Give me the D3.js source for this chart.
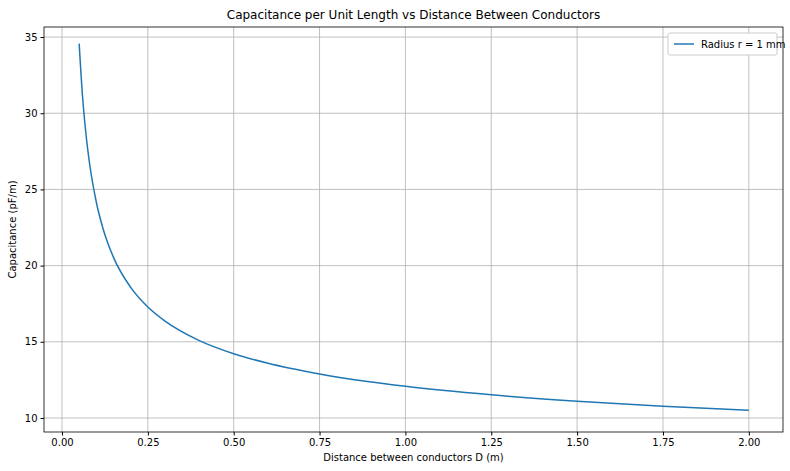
<!DOCTYPE html>
<html><head><meta charset="utf-8">
<script src="https://cdn.jsdelivr.net/npm/d3@7"></script>
<style>body{margin:0;background:#fff}text{font-family:"DejaVu Sans",sans-serif}</style>
</head><body><svg id="c" width="790" height="471"></svg>
<script>
// values
var distances = [0.05,0.06,0.07,0.08,0.1,0.12,0.15,0.2,0.25,0.3,0.4,0.5,0.6,0.75,1.0,1.25,1.5,1.75,2.0];
var capacitance = [34.57,31.05,28.59,26.75,24.16,22.39,20.54,18.57,17.28,16.36,15.08,14.22,13.59,12.89,12.08,11.52,11.10,10.77,10.50];
var xTicks = [0,0.25,0.5,0.75,1.0,1.25,1.5,1.75,2.0];
var yTicks = [10,15,20,25,30,35];

var svg = d3.select('#c'),
    L = 44, R = 783, T = 27, B = 432;
var x = d3.scaleLinear().domain([-0.0524, 2.0995]).range([L, R]);
var y = d3.scaleLinear().domain([9.08, 35.66]).range([B, T]);

var g = svg.append('g');
// grid
g.selectAll('.gx').data(xTicks).enter().append('line')
  .attr('x1', d => x(d)).attr('x2', d => x(d)).attr('y1', T).attr('y2', B)
  .attr('stroke', '#b0b0b0').attr('stroke-width', 0.8);
g.selectAll('.gy').data(yTicks).enter().append('line')
  .attr('y1', d => y(d)).attr('y2', d => y(d)).attr('x1', L).attr('x2', R)
  .attr('stroke', '#b0b0b0').attr('stroke-width', 0.8);

var xa = svg.append('g').attr('transform', 'translate(0,' + B + ')')
  .call(d3.axisBottom(x).tickValues(xTicks).tickFormat(d3.format('.2f')).tickSize(3.5).tickPadding(3));
var ya = svg.append('g').attr('transform', 'translate(' + L + ',0)')
  .call(d3.axisLeft(y).tickValues(yTicks).tickSize(3.5).tickPadding(3));
[xa, ya].forEach(a => { a.select('.domain').remove(); a.selectAll('text').attr('font-size', 10).attr('fill', '#000'); });

svg.append('rect').attr('x', L).attr('y', T).attr('width', R - L).attr('height', B - T)
  .attr('fill', 'none').attr('stroke', '#000').attr('stroke-width', 0.8);

var line = d3.line().x((d, i) => x(distances[i])).y(d => y(d)).curve(d3.curveMonotoneX);
svg.append('path').datum(capacitance).attr('d', line)
  .attr('fill', 'none').attr('stroke', '#1f77b4').attr('stroke-width', 1.5);

svg.append('text').attr('x', (L + R) / 2).attr('y', 19).attr('text-anchor', 'middle')
  .attr('font-size', 12).text('Capacitance per Unit Length vs Distance Between Conductors');
svg.append('text').attr('x', (L + R) / 2).attr('y', 461).attr('text-anchor', 'middle')
  .attr('font-size', 10).text('Distance between conductors D (m)');
svg.append('text').attr('transform', 'translate(16,' + (T + B) / 2 + ') rotate(-90)')
  .attr('text-anchor', 'middle').attr('font-size', 10).text('Capacitance (pF/m)');

// legend
var lg = svg.append('g').attr('transform', 'translate(668,33)');
lg.append('rect').attr('width', 109).attr('height', 22).attr('rx', 2)
  .attr('fill', '#fff').attr('stroke', '#ccc');
lg.append('line').attr('x1', 6).attr('x2', 26).attr('y1', 11).attr('y2', 11)
  .attr('stroke', '#1f77b4').attr('stroke-width', 1.5);
lg.append('text').attr('x', 33).attr('y', 15).attr('font-size', 10).text('Radius r = 1 mm');
</script></body></html>
